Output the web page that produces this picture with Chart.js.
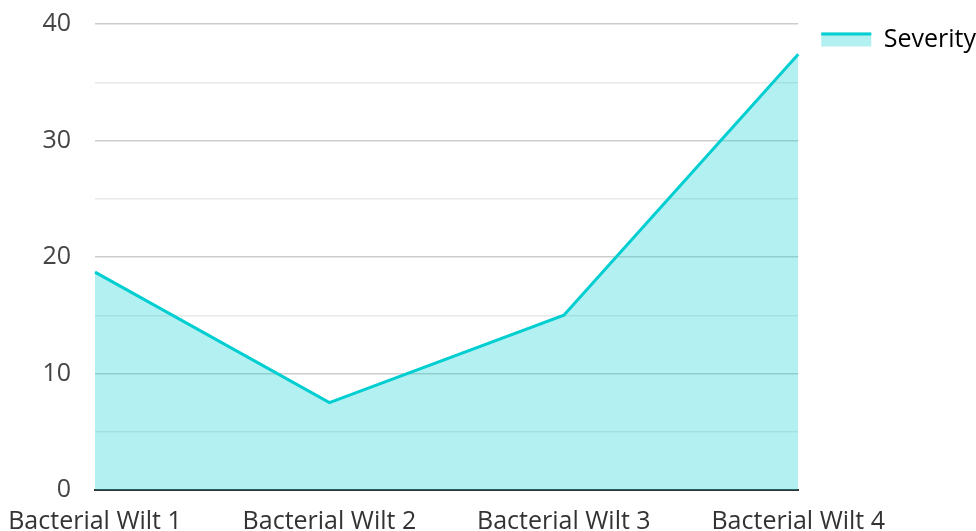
<!DOCTYPE html>
<html>
<head>
<meta charset="utf-8">
<script src="https://cdn.jsdelivr.net/npm/chart.js@4/dist/chart.umd.min.js"></script>
<style>
html,body{margin:0;padding:0;background:#fff;}
#wrap{width:976px;height:531px;position:relative;}
</style>
</head>
<body>
<div id="wrap"><canvas id="c"></canvas></div>
<script>
const categories = ["Bacterial Wilt 1", "Bacterial Wilt 2", "Bacterial Wilt 3", "Bacterial Wilt 4"];
const seriesName = "Severity";
const severity = [18.7, 7.5, 15, 37.4];
const yTicks = [0, 10, 20, 30, 40];

const lineColor = '#00CED1';
const fillColor = 'rgba(0,206,209,0.3)';

// Nudge the legend block and draw the series line across the top of its swatch
const legendStylePlugin = {
  id: 'legendStyle',
  afterLayout(chart) {
    const lg = chart.legend;
    if (!lg) return;
    const dx = 10, dy = -10;
    lg.left += dx; lg.right += dx;
    lg.top += dy; lg.bottom += dy;
  },
  afterDraw(chart) {
    const lg = chart.legend;
    if (!lg || !lg.legendHitBoxes) return;
    const ctx = chart.ctx;
    const opts = lg.options.labels;
    lg.legendHitBoxes.forEach((hb) => {
      ctx.save();
      ctx.fillStyle = lineColor;
      ctx.fillRect(hb.left, hb.top + (hb.height - opts.boxHeight) / 2, opts.boxWidth, 3);
      ctx.restore();
    });
  }
};

new Chart(document.getElementById('c'), {
  type: 'line',
  data: {
    labels: categories,
    datasets: [{
      label: seriesName,
      data: severity,
      borderColor: lineColor,
      backgroundColor: fillColor,
      borderWidth: 3,
      fill: 'origin',
      pointRadius: 0,
      tension: 0
    }]
  },
  options: {
    responsive: true,
    maintainAspectRatio: false,
    animation: false,
    layout: { padding: { top: 24, right: 0, left: 0, bottom: 0 } },
    plugins: {
      tooltip: { enabled: false },
      legend: {
        position: 'right',
        align: 'start',
        labels: {
          boxWidth: 50,
          boxHeight: 14,
          color: '#333',
          font: { family: 'Open Sans', size: 25 },
          padding: 13,
          generateLabels(chart) {
            return [{
              text: seriesName,
              fillStyle: fillColor,
              strokeStyle: 'rgba(0,0,0,0)',
              lineWidth: 0,
              datasetIndex: 0,
              hidden: false
            }];
          }
        }
      }
    },
    scales: {
      x: {
        offset: false,
        grid: { display: false, drawTicks: false },
        border: { display: true, color: '#333', width: 2 },
        ticks: { color: '#333', font: { family: 'Open Sans', size: 25 }, padding: 17, maxRotation: 0, autoSkip: false },
        afterFit: (scale) => { scale.paddingLeft = 0; scale.paddingRight = 0; scale.height = 41; }
      },
      y: {
        min: 0,
        max: 40,
        z: 1,
        border: { display: false },
        grid: {
          drawTicks: true,
          tickLength: 21,
          tickColor: 'rgba(0,0,0,0)',
          color: (ctx) => (ctx.tick && ctx.tick.value % 10 === 0) ? 'rgba(0,0,0,0.2)' : 'rgba(0,0,0,0.09)',
          lineWidth: 1.5
        },
        ticks: {
          stepSize: 5,
          color: '#444',
          font: { family: 'Open Sans', size: 25 },
          padding: 3,
          callback: (v) => yTicks.includes(v) ? String(v) : ''
        },
        afterFit: (scale) => { scale.width = 95; scale.paddingTop = 0; scale.paddingBottom = 0; }
      }
    }
  },
  plugins: [legendStylePlugin]
});
</script>
</body>
</html>
